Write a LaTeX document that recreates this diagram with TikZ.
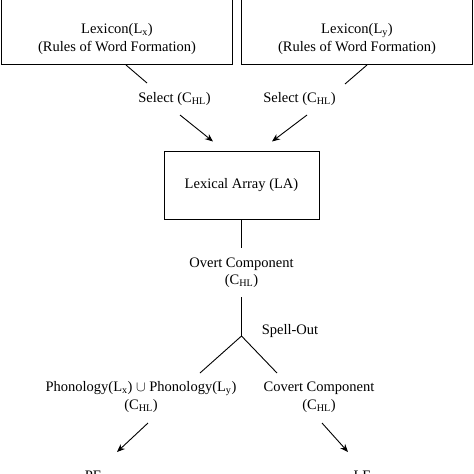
\documentclass[tikz,border=0pt]{standalone}
\usepackage{fontspec}
\setmainfont{Liberation Serif}
\usetikzlibrary{arrows.meta}
\tikzstyle{bigbox} = [rectangle, minimum width=231pt, minimum height=90pt, draw=black, line width=1pt]
\tikzstyle{normal} = [rectangle, minimum width=155pt, minimum height=68pt, text centered, draw=black, line width=1pt]
\tikzstyle{invis} = [rectangle, align=center, inner sep=0pt]
\tikzstyle{link} = [line width=0.9pt]
\tikzstyle{arrow} = [line width=0.9pt,-{Stealth[length=8pt,width=6.5pt]}]
\newcommand{\chl}{(C\textsubscript{HL})}

\begin{document}
\begin{tikzpicture}[x=1pt, y=-1pt, font=\fontsize{14.5}{17.5}\selectfont]
\useasboundingbox (0,0) rectangle (474,474);

%% NODES

\node (lexxbox) [bigbox, anchor=south] at (116.5,65) {};
\node (lexybox) [bigbox, anchor=south] at (357,65) {};
\node (lexx) [invis] at (117,39) {Lexicon(L\textsubscript{x})\\(Rules of Word Formation)};
\node (lexy) [invis, right of=lexx, node distance=240pt] {Lexicon(L\textsubscript{y})\\(Rules of Word Formation)};
\node (selx) [invis] at (174.5,99) {Select \chl};
\node (sely) [invis, right of=selx, node distance=125pt] {Select \chl};
\node (la) [normal] at (241.5,185) {Lexical Array (LA)};
\node (overt) [invis, below of=la, node distance=87.5pt] {Overt Component\\\chl};
\coordinate (split) at (241.5,336);
\node (spell) [invis] at (290,331) {Spell-Out};
\node (phon) [invis] at (141,397) {Phonology(L\textsubscript{x}) $\cup$ Phonology(L\textsubscript{y})\\\chl};
\node (covert) [invis, right of=phon, node distance=178pt] {Covert Component\\\chl};
\node (pf) [invis] at (93,476) {PF};
\node (lf) [invis, right of=pf, node distance=269pt] {LF};

%% ARROWS

\draw [link] ([xshift=9.5pt]lexxbox.south) -- ([xshift=-27.5pt,yshift=16pt]selx.center);
\draw [link] ([xshift=10pt]lexybox.south) -- ([xshift=45.5pt,yshift=15pt]sely.center);
\draw [arrow] ([xshift=5.5pt,yshift=-16pt]selx.center) -- ([xshift=-28.5pt,yshift=9pt]la.north);
\draw [arrow] ([xshift=7.5pt,yshift=-16pt]sely.center) -- ([xshift=30.5pt,yshift=9pt]la.north);
\draw [link] (la.south) -- ([yshift=24.5pt]overt.center);
\draw [link] ([yshift=-24.5pt]overt.center) -- (split);
\draw [link, line join=round] ([xshift=59pt,yshift=24pt]phon.center) -- (split) -- ([xshift=-42pt,yshift=24pt]covert.center);
\draw [arrow] ([xshift=7pt,yshift=-26pt]phon.center) -- ([xshift=24pt,yshift=24pt]pf.center);
\draw [arrow] ([xshift=3pt,yshift=-26pt]covert.center) -- ([xshift=-14pt,yshift=24pt]lf.center);

\end{tikzpicture}
\end{document}
